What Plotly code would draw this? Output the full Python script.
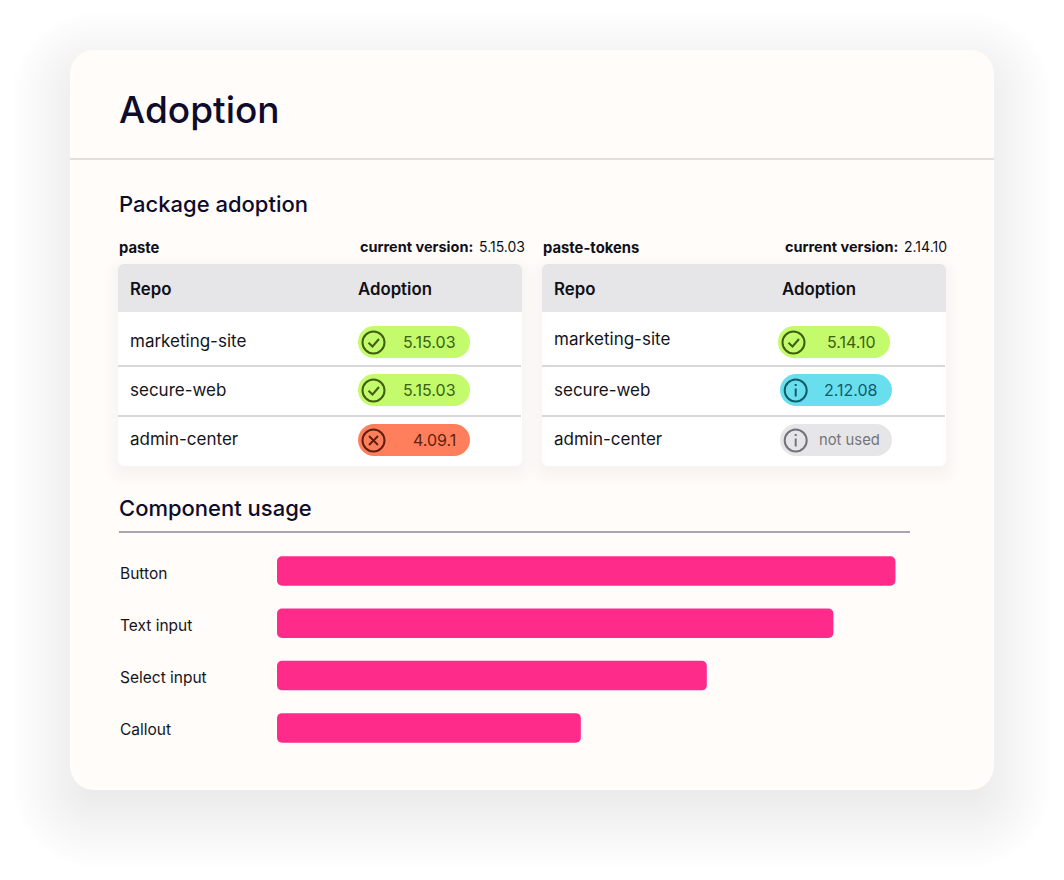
import plotly.graph_objects as go

# ---- data ----
page_title = "Adoption"
section_packages = "Package adoption"
section_components = "Component usage"
table_headers = ["Repo", "Adoption"]
repos = ["marketing-site", "secure-web", "admin-center"]
package_names = ["paste", "paste-tokens"]
current_versions = ["5.15.03", "2.14.10"]
paste_versions = ["5.15.03", "5.15.03", "4.09.1"]
paste_status = ["ok", "ok", "error"]
token_versions = ["5.14.10", "2.12.08", "not used"]
token_status = ["ok", "info", "none"]
components = ["Button", "Text input", "Select input", "Callout"]
usage = [97.7, 87.9, 67.9, 48.0]
bar_base = [0, 0, 0, 0]

# ---- style ----
W, H = 1064, 880
FONT = "Inter"
INK = "#0E0B2B"
TEXT = "#14141C"
STATUS = {
    "ok": dict(bg="#C3FB6C", fg="#3F5E12", icon="check"),
    "info": dict(bg="#69DFEE", fg="#115B6B", icon="i"),
    "error": dict(bg="#FF7F5C", fg="#5E1F10", icon="x"),
    "none": dict(bg="#E6E6E9", fg="#73737C", icon="i"),
}

px = lambda x: x / W
py = lambda y: 1 - y / H
shapes, notes = [], []


def rrect(x0, y0, x1, y1, r, fill, top_only=False):
    k = 0.45 * r
    rb = 0 if top_only else r
    kb = 0.45 * rb
    pts = [
        f"M {px(x0 + r)} {py(y0)}", f"L {px(x1 - r)} {py(y0)}",
        f"C {px(x1 - k)} {py(y0)} {px(x1)} {py(y0 + k)} {px(x1)} {py(y0 + r)}",
        f"L {px(x1)} {py(y1 - rb)}",
        f"C {px(x1)} {py(y1 - kb)} {px(x1 - kb)} {py(y1)} {px(x1 - rb)} {py(y1)}",
        f"L {px(x0 + rb)} {py(y1)}",
        f"C {px(x0 + kb)} {py(y1)} {px(x0)} {py(y1 - kb)} {px(x0)} {py(y1 - rb)}",
        f"L {px(x0)} {py(y0 + r)}",
        f"C {px(x0)} {py(y0 + k)} {px(x0 + k)} {py(y0)} {px(x0 + r)} {py(y0)}", "Z",
    ]
    shapes.append(dict(type="path", xref="paper", yref="paper", layer="below",
                       path=" ".join(pts), fillcolor=fill, line=dict(width=0)))


def hline(x0, x1, y, color, w=2):
    shapes.append(dict(type="line", xref="paper", yref="paper", layer="below",
                       x0=px(x0), x1=px(x1), y0=py(y), y1=py(y),
                       line=dict(color=color, width=w)))


def seg(points, color, w=2):
    d = " ".join(("M" if i == 0 else "L") + f" {px(a)} {py(b)}" for i, (a, b) in enumerate(points))
    shapes.append(dict(type="path", xref="paper", yref="paper", layer="below", path=d,
                       line=dict(color=color, width=w)))


def text(x, y, s, size, color=TEXT, weight=400, anchor="left"):
    x = x - 1 if anchor == "left" else x + 1.5
    notes.append(dict(xref="paper", yref="paper", x=px(x), y=py(y), text=s, showarrow=False,
                      xanchor=anchor, yanchor="middle", borderpad=0,
                      font=dict(family=FONT, size=size, color=color, weight=weight)))


def shadow(x0, y0, x1, y1, r, dy, d_out, d_in, n, alpha):
    for i in range(n):
        d = d_out - i * (d_out - d_in) / (n - 1)
        rrect(x0 - d, y0 + dy - d, x1 + d, y1 + dy + d, max(r + d, 2), f"rgba(0,0,0,{alpha})")


def pill(x0, x1, y0, status, label, cx, right):
    st = STATUS[status]
    cy = y0 + 16.5
    rrect(x0, y0, x1, y0 + 32, 16, st["bg"])
    shapes.append(dict(type="circle", xref="paper", yref="paper", layer="below",
                       x0=px(cx - 11), x1=px(cx + 11), y0=py(cy - 11), y1=py(cy + 11),
                       line=dict(color=st["fg"], width=2), fillcolor="rgba(0,0,0,0)"))
    if st["icon"] == "check":
        seg([(cx - 5, cy + 0.3), (cx - 1, cy + 4), (cx + 5.5, cy - 3.5)], st["fg"])
    elif st["icon"] == "x":
        seg([(cx - 4.5, cy - 4.5), (cx + 4.5, cy + 4.5)], st["fg"])
        seg([(cx + 4.5, cy - 4.5), (cx - 4.5, cy + 4.5)], st["fg"])
    else:
        seg([(cx, cy - 2), (cx, cy + 6)], st["fg"])
        seg([(cx, cy - 6.5), (cx, cy - 4.5)], st["fg"])
    if status == "none":
        text(right, y0 + 15.5, label, 14.8, st["fg"], 400, "right")
    else:
        text(right, y0 + 16.3, label, 16, st["fg"], 400, "right")


# card
shadow(70, 50, 994, 790, 24, 20, 58, -20, 21, 0.0045)
rrect(70, 50, 994, 790, 24, "#FFFCFA")
hline(70, 994, 159, "#E3DFDB")
text(119, 109, page_title, 37, INK, 500)
text(119, 204, section_packages, 22, INK, 500)
text(119, 508, section_components, 22, INK, 500)
hline(119, 910, 532, "#A9A6B0")

# tables
tables = [
    dict(x=118, name=package_names[0], cur=current_versions[0], vers=paste_versions, stat=paste_status,
         cv=(360, 479), repo_y=[341, 390, 439], pills=[(358, 470, 373.5, 455)] * 3),
    dict(x=542, name=package_names[1], cur=current_versions[1], vers=token_versions, stat=token_status,
         cv=(785, 904), repo_y=[339, 390, 439],
         pills=[(778, 890, 793.5, 875), (780, 892, 795.7, 876.7), (780, 892, 795.7, 879)]),
]
pill_y = [326, 374, 424]
for t in tables:
    x = t["x"]
    text(x + 1, 247.6, t["name"], 14.8, "#101018", 700)
    text(t["cv"][0], 246.6, "current version:", 14.5, "#101018", 700)
    text(t["cv"][1], 246.6, t["cur"], 14, "#101018", 400)
    shadow(x, 264, x + 404, 466, 6, 6, 14, -2, 9, 0.005)
    rrect(x, 264, x + 404, 466, 6, "#FFFFFF")
    rrect(x, 264, x + 404, 312, 6, "#E6E6E9", top_only=True)
    text(x + 12, 289, table_headers[0], 16.8, "#101018", 600)
    text(x + 240, 289, table_headers[1], 16.8, "#101018", 600)
    hline(x, x + 403, 366, "#D8D8DB")
    hline(x, x + 403, 416, "#D8D8DB")
    for i, repo in enumerate(repos):
        text(x + 12, t["repo_y"][i], repo, 17, TEXT, 400)
        a, b, cx, right = t["pills"][i]
        pill(a, b, pill_y[i], t["stat"][i], t["vers"][i], cx, right)

# component labels
for name, yc in zip(components, [573, 625, 677, 729.5]):
    text(120, yc, name, 15.5, TEXT, 400)

fig = go.Figure(go.Bar(x=usage, y=components, base=bar_base, orientation="h",
                       marker=dict(color="#FF2B8A", line=dict(width=0), cornerradius=5),
                       width=0.565, hoverinfo="skip"))
fig.update_layout(
    width=W, height=H, margin=dict(l=0, r=0, t=0, b=0, pad=0),
    paper_bgcolor="#FFFFFF", plot_bgcolor="rgba(0,0,0,0)",
    showlegend=False, shapes=shapes, annotations=notes,
    xaxis=dict(domain=[px(277), px(910)], range=[0, 100], visible=False, fixedrange=True),
    yaxis=dict(domain=[py(754.05), py(544.85)], categoryorder="array", categoryarray=components,
               range=[3.5, -0.5], visible=False, fixedrange=True),
)
fig.write_html("out.html", config=dict(displayModeBar=False),
               post_script="document.body.style.margin='0';")
